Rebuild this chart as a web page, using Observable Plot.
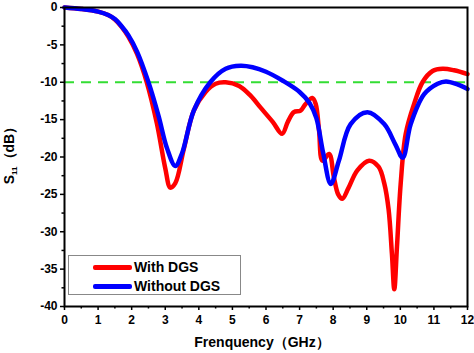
<!DOCTYPE html>
<html><head><meta charset="utf-8">
<script src="https://cdn.jsdelivr.net/npm/d3@7"></script>
<script src="https://cdn.jsdelivr.net/npm/@observablehq/plot@0.6"></script>
<style>
body{margin:0;background:#fff;font-family:"Liberation Sans",Arial,sans-serif;}
#wrap{position:relative;width:474px;height:353px;}
.lbl{position:absolute;font-weight:bold;color:#000;white-space:nowrap;}
#legend{position:absolute;left:68px;top:255px;width:173px;height:40px;border:1px solid #888;background:#fff;box-sizing:border-box;}
.lrow{position:absolute;left:0;width:170px;height:16px;font-weight:bold;font-size:14px;line-height:16px;white-space:nowrap;}
.sw{position:absolute;left:24px;width:39px;height:5px;border-radius:2px;}
.lt{position:absolute;left:65px;top:0;white-space:nowrap;}
</style></head><body>
<div id="wrap"></div>
<script>
const redX = [0,0.5,1.0,1.3,1.5,1.7,1.9,2.16,2.45,2.75,3.0,3.15,3.3,3.55,3.85,4.2,4.5,4.8,5.2,5.54,5.84,6.2,6.48,6.65,6.83,7.03,7.18,7.38,7.48,7.58,7.68,7.88,8.02,8.15,8.27,8.45,8.72,9.07,9.35,9.52,9.65,9.75,9.82,9.9,10.01,10.16,10.41,10.66,10.96,11.26,11.6,12];
const redY = [0,-0.2,-0.55,-1.0,-1.6,-2.6,-3.9,-6.2,-10,-15.5,-21.5,-24.1,-23.5,-19,-13.8,-11.3,-10.2,-10,-10.5,-11.8,-13.4,-15.3,-16.9,-15.3,-14.0,-13.8,-12.9,-12.1,-12.9,-16.5,-20.5,-19.6,-22.7,-25,-25.6,-24.2,-21.8,-20.5,-21.3,-23.5,-27,-33,-37.7,-32,-23.6,-16.9,-12.9,-10,-8.5,-8.2,-8.4,-8.9];
const blueX = [0,0.5,1.0,1.3,1.5,1.7,1.9,2.16,2.5,2.8,3.05,3.3,3.5,3.85,4.34,4.8,5.24,5.6,6.0,6.5,7.0,7.3,7.5,7.7,7.93,8.17,8.52,9.02,9.52,9.85,10.07,10.31,10.71,11.11,11.36,11.7,12];
const blueY = [0,-0.2,-0.55,-1.0,-1.55,-2.5,-3.7,-5.9,-10,-14.5,-18.8,-21.2,-19.5,-13.8,-10,-8.2,-7.8,-8.0,-8.6,-9.8,-11.3,-12.8,-14.8,-19.4,-23.6,-20.5,-15.6,-14.0,-15.6,-18.3,-20.1,-15.6,-11.6,-10.2,-9.9,-10.3,-10.9];
const refLevel = -10;
const xMajor = d3.range(0, 13, 1);
const xMinor = d3.range(0.5, 12, 1);
const yMajor = d3.range(-40, 1, 5);
const yMinor = d3.range(-37.5, 0, 5);
const seriesNames = ["With DGS", "Without DGS"];
const seriesColors = ["#ff0000", "#0000ff"];

const red = redX.map((x, i) => ({x, y: redY[i]}));
const blue = blueX.map((x, i) => ({x, y: blueY[i]}));

const chart = Plot.plot({
  width: 474, height: 353,
  marginLeft: 64, marginRight: 7, marginTop: 7, marginBottom: 47,
  x: {domain: [0, 12]},
  y: {domain: [-40, 0]},
  style: {fontFamily: "'Liberation Sans', Arial, sans-serif", fontSize: "12px", fontWeight: "bold", color: "#000"},
  marks: [
    Plot.ruleY([refLevel], {stroke: "#33dd33", strokeWidth: 2, strokeDasharray: "10,7"}),
    Plot.line(red, {x: "x", y: "y", stroke: seriesColors[0], strokeWidth: 4.5, curve: "catmull-rom"}),
    Plot.line(blue, {x: "x", y: "y", stroke: seriesColors[1], strokeWidth: 4.5, curve: "catmull-rom"}),
    Plot.axisX(xMajor, {tickSize: 4, tickPadding: 5, tickFormat: d => String(d), label: null, strokeWidth: 1.5}),
    Plot.axisX(xMinor, {tickSize: 2.5, tickFormat: () => "", label: null, strokeWidth: 1.5}),
    Plot.axisY(yMajor, {tickSize: 4, tickPadding: 3, tickFormat: d => String(d), label: null, strokeWidth: 1.5}),
    Plot.axisY(yMinor, {tickSize: 2.5, tickFormat: () => "", label: null, strokeWidth: 1.5}),
    Plot.frame({stroke: "#000", strokeWidth: 2})
  ]
});
const wrap = document.getElementById("wrap");
wrap.appendChild(chart);

const yl = document.createElement("div");
yl.className = "lbl";
yl.style.cssText += "left:10px;top:152px;font-size:14px;transform:translate(-50%,-50%) rotate(-90deg);";
yl.innerHTML = 'S<sub style="font-size:8px">11</sub>（dB）';
wrap.appendChild(yl);

const xl = document.createElement("div");
xl.className = "lbl";
xl.style.cssText += "left:262px;top:343px;font-size:14px;transform:translate(-50%,-50%);";
xl.textContent = "Frenquency（GHz）";
wrap.appendChild(xl);

const lg = document.createElement("div");
lg.id = "legend";
seriesNames.forEach((n, i) => {
  const r = document.createElement("div");
  r.className = "lrow";
  r.style.top = (3 + i * 19) + "px";
  r.innerHTML = `<div class="sw" style="top:6px;background:${seriesColors[i]}"></div><span class="lt">${n}</span>`;
  lg.appendChild(r);
});
wrap.appendChild(lg);
</script>
</body></html>
